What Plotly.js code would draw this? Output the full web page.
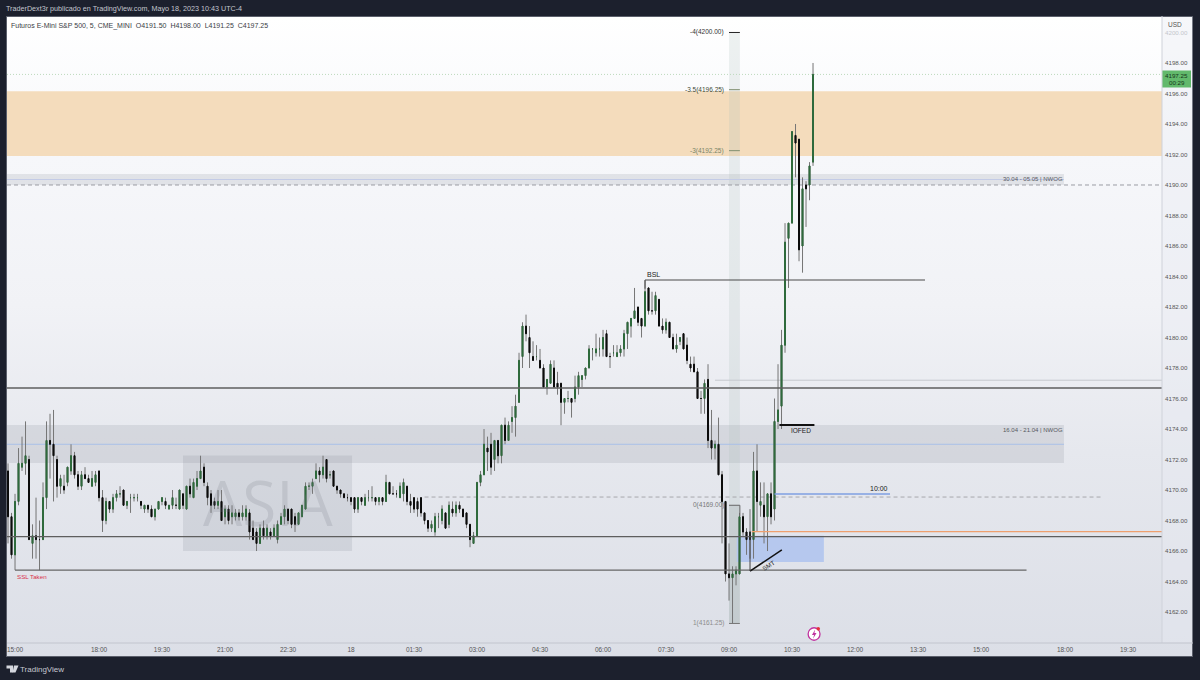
<!DOCTYPE html>
<html><head><meta charset="utf-8">
<script src="https://cdn.plot.ly/plotly-3.0.1.min.js"></script>
<style>
html,body{margin:0;padding:0;width:1200px;height:680px;overflow:hidden;background:#1c202d}
#pane{position:absolute;left:6px;top:16px;width:1187px;height:641px;border:1px solid #5b5f6b;box-sizing:border-box;
background:linear-gradient(#ffffff 0%,#f6f7fa 22%,#f1f2f6 45%,#e6e8ee 68%,#dcdfe7 100%)}
#chart{position:absolute;left:0;top:0;width:1200px;height:680px}
</style></head><body>
<div id="pane"></div><div id="chart"></div>
<script>
const opens=[4171.25,4168.25,4165.75,4169.25,4171.5,4171.75,4172,4166.5,4167,4166.75,
4166.75,4169.5,4173.25,4173,4172,4170.25,4170.25,4170.5,4171.25,4172.25,
4171,4170.25,4171,4170.75,4170.25,4170.5,4171.25,4169.5,4168,4169.25,
4168.75,4169.5,4169.75,4170,4169,4169.5,4169.5,4169.5,4169.25,4168.75,
4169,4168.75,4168.25,4168.75,4169.25,4169.25,4168.75,4169,4169,4168.75,
4169.75,4168.75,4170.25,4169.5,4170.25,4170.75,4171.5,4170.25,4169.75,4169.25,
4169,4169.25,4168.25,4168.75,4168.25,4168.25,4168.5,4168.25,4168.25,4168.5,
4167.5,4167.25,4166.5,4167.5,4167,4167.25,4167,4166.75,4167.75,4168.25,
4168.75,4168.75,4168.25,4167.75,4168.25,4168.75,4170.25,4170.25,4170.75,4171.25,
4171,4172,4171,4171.25,4170.25,4170,4169.75,4169.5,4169.5,4169.5,
4168.75,4169.5,4169,4169.5,4169.5,4169.5,4169.25,4169.5,4169.25,4170.5,
4169.75,4169.75,4169.5,4169.75,4170.25,4169.25,4169.5,4169.25,4169.5,4168.5,
4168,4167.5,4167.25,4168.25,4168,4168.5,4167.75,4168.75,4168.5,4169,
4168.75,4168.5,4167.75,4166.5,4167,4170.5,4171,4172.75,4173,4172,
4173.25,4172.25,4174.25,4173.25,4174.5,4174.75,4175.75,4178.75,4180.75,4180,
4178.75,4178.75,4178.5,4178,4176.75,4177,4178,4177,4177,4175.75,
4176,4176,4176,4176.75,4177.25,4177.5,4178,4179.25,4179,4179.25,
4179.25,4180.25,4178.75,4179,4178.75,4179,4179.25,4180.25,4180.75,4181.25,
4182,4181.25,4180.75,4183.25,4181.75,4181.75,4182.5,4180.75,4180.5,4181,
4180,4179.25,4179.75,4180.25,4179.5,4178.25,4178.25,4177.75,4176,4176,
4177.25,4173.25,4172.75,4173,4171,4169.25,4164.5,4164.25,4164.5,4164.5,
4168.25,4167.25,4167.25,4166.75,4171.25,4169,4169,4168.25,4169.75,4168.75,
4174.5,4175.5,4179.5,4186.5,4187.5,4193.25,4193,4186,4190,4190,
4191.5];
const highs=[4171.75,4168.5,4169.75,4172.75,4173.5,4174.5,4172.25,4167.75,4169.5,4168,
4170.5,4174.5,4175,4175.25,4172.25,4171,4171,4171.5,4173,4172.5,
4171.25,4171.25,4171.5,4171,4171.25,4171.25,4171.25,4170,4169.5,4169.25,
4169.75,4170,4170.25,4170,4169.25,4169.75,4169.75,4169.75,4169.25,4169,
4169,4169,4168.75,4169.25,4169.5,4169.5,4169,4170,4169.5,4170,
4169.75,4170.25,4170.75,4170.75,4171.25,4172.25,4171.75,4170.5,4170,4169.5,
4170,4170,4169,4169,4169,4168.75,4168.75,4169,4169,4168.75,
4168,4167.5,4167.75,4168,4167.75,4167.5,4167.75,4168,4168.5,4169,
4168.75,4168.75,4168.5,4168.5,4169,4170.5,4170.5,4170.75,4171.75,4171.5,
4172.25,4172,4171.25,4171.25,4170.25,4170,4169.75,4169.75,4169.5,4169.5,
4169.5,4169.5,4169.75,4170,4170.25,4169.5,4169.5,4169.5,4171,4170.5,
4170.25,4170,4170.5,4170.75,4170.25,4169.75,4169.5,4169.5,4169.5,4168.5,
4168,4168,4168.5,4168.5,4169,4168.5,4169.25,4169.25,4169.25,4169.25,
4168.75,4168.5,4167.75,4167.25,4170.5,4171.25,4174,4173.5,4173.75,4173.25,
4173.25,4174.25,4174.75,4174.5,4175.5,4176.25,4179,4181,4181.5,4180.75,
4179.75,4179.5,4179.25,4178.25,4177.25,4178.5,4178.5,4177.75,4177,4176,
4176.5,4176,4177.5,4177.75,4177.5,4178,4179.5,4179.25,4180.25,4180,
4180.5,4180.5,4179,4179.5,4179.5,4179.5,4180.5,4181,4181.25,4183.25,
4182,4181.25,4183.75,4183.25,4183,4183,4182.5,4181.25,4181.25,4181,
4180.25,4180.25,4180,4180.25,4180,4178.75,4178.75,4178,4176.5,4177.25,
4178.25,4175.25,4173.25,4174.75,4171.25,4169.25,4166.5,4165,4165,4168.5,
4168.5,4167.5,4168.75,4172.5,4173,4170.5,4170.5,4169.75,4170.5,4176,
4178.25,4180.5,4187.5,4187.5,4193.5,4194,4193,4190.5,4190.25,4191.5,
4198];
const lows=[4166.5,4165.5,4164.75,4169,4171.25,4171,4166.75,4165.5,4165.5,4164.75,
4166.75,4168.75,4170.75,4169.25,4169.5,4169.75,4169.75,4170.25,4171,4170.75,
4170,4170,4170.75,4170.5,4170.25,4170.25,4169.25,4167.25,4167.75,4168.5,
4168.5,4169.25,4169.5,4169,4168.75,4168.5,4169.25,4169.25,4168.75,4168.5,
4168.5,4168.25,4168,4168.75,4169,4168.75,4168.75,4168.75,4168.75,4168.75,
4168.75,4168.75,4169.5,4169.5,4170,4170.75,4170.25,4169,4168.5,4168.75,
4168.75,4168,4167.75,4167.75,4167.75,4168,4168,4168,4168,4166.75,
4166.75,4166,4166.5,4166.75,4166.75,4166.75,4167,4166.5,4167.75,4167.75,
4167.75,4167.5,4167.25,4167.75,4168.25,4168.75,4170,4169.75,4170.75,4170.5,
4170.75,4170.5,4170.75,4170.25,4169.75,4169.5,4169.5,4169.25,4169,4168.5,
4168.5,4169,4169,4169.25,4169.25,4169,4169,4169,4169.25,4169.75,
4169.75,4169.5,4169.5,4169.25,4169,4168.5,4168.5,4168.25,4168.25,4167.75,
4167.25,4167.25,4167,4167.5,4167.75,4167.5,4167.5,4168.25,4168.25,4168.5,
4168.25,4167.5,4166.25,4166.5,4167,4170.25,4171,4171.25,4171,4171.25,
4171.75,4171.75,4173,4173.25,4173.75,4173.5,4175.75,4178,4179.75,4178,
4178.5,4178.5,4178,4176.75,4176.25,4177,4176.75,4176.25,4174.25,4175,
4175.75,4174.75,4175.75,4176.25,4176.75,4177.25,4178,4178.5,4178.75,4178.75,
4178.75,4178.75,4178,4178.75,4178.75,4178.75,4178.75,4179.25,4180,4181.25,
4180.75,4180,4180.75,4181.5,4181.5,4181.5,4180.75,4180.25,4180.25,4180,
4179.25,4179,4179.5,4179.25,4178.25,4177.75,4177.75,4176,4175,4175,
4172.75,4172,4172,4171,4166.5,4164,4162.75,4161.25,4163.75,4164.5,
4167,4165.75,4165.5,4165.5,4167.25,4168.25,4166.5,4166,4167.75,4168,
4174,4174,4179,4183.25,4187.5,4190.5,4185,4184.25,4187.25,4189,
4191.25];
const closes=[4168.25,4165.75,4169.25,4171.75,4171.75,4172.25,4166.75,4167,4166.75,4166.75,
4169.5,4173.25,4173,4172.25,4170.25,4170.75,4170,4171.5,4172.25,4171,
4170.25,4171,4170.75,4170.5,4170.75,4171,4169.5,4168,4169.25,4168.75,
4169.5,4169.75,4169.75,4169,4169.25,4169.5,4169.5,4169.5,4169,4169,
4168.75,4168.25,4168.75,4169.25,4169.5,4169,4169,4169.5,4169,4170,
4169,4170.25,4169.75,4170.5,4170.75,4171.25,4170.5,4169.5,4169,4169,
4169.25,4168,4168.75,4168,4168.5,4168.5,4168.25,4168.5,4168.75,4167.25,
4166.75,4166.5,4167.5,4167,4167.5,4167,4167.5,4167.75,4168.25,4168.75,
4168,4167.75,4167.75,4168.5,4169,4170.25,4170.25,4170.5,4171.25,4171,
4171.5,4170.75,4171,4170.25,4170,4169.75,4169.5,4169.5,4169.25,4168.75,
4169.5,4169.25,4169.5,4169.5,4169.5,4169.25,4169.5,4169.25,4170.5,4169.75,
4169.75,4169.75,4170.25,4170.5,4169.25,4169,4168.75,4168.75,4168.5,4168,
4167.5,4167.75,4168.25,4168.25,4168.75,4167.5,4169,4168.5,4169,4168.75,
4168.25,4167.75,4166.75,4167,4170.5,4171,4173,4172.5,4171.5,4173.25,
4172.25,4174.25,4173.25,4174.25,4174.75,4175.5,4178.5,4180.75,4180.25,4179,
4178.5,4178.75,4178,4176.75,4177.25,4178.25,4176.75,4176.75,4175.75,4176,
4176,4175.75,4176.75,4177.5,4177.5,4178,4179.25,4179.25,4179.25,4179.25,
4180,4178.75,4178.75,4179,4179,4179.25,4180.25,4181,4181.25,4181.75,
4181,4180.75,4183,4181.75,4181.75,4182.75,4180.75,4180.5,4181,4180,
4179.25,4179.5,4180,4179.25,4178.5,4178,4177.75,4176,4176,4177,
4173.25,4172.75,4173,4171,4169.25,4164.5,4164.25,4164.5,4164.75,4168.25,
4167.25,4166.75,4166.75,4171.25,4169.25,4169.25,4168.25,4169.75,4168.25,4174.5,
4175.25,4179.5,4186.25,4187.5,4193.5,4192.75,4185.75,4189.75,4189.75,4191.25,
4197.25];
const firstBar=-2;
const tickBars=[0,24,42,60,78,96,114,132,150,168,186,204,222,240,258,276,300,318];
const tickTimes=["15:00","18:00","19:30","21:00","22:30","18","01:30","03:00","04:30","06:00","07:30","09:00","10:30","12:00","13:30","15:00","18:00","19:30"];
const priceTicks=[4162,4164,4166,4168,4170,4172,4174,4176,4178,4180,4182,4184,4186,4188,4190,4192,4194,4196,4198];

const X0=-2.29,X1=327.71;
const bars=opens.map((_,i)=>i+firstBar);
const bodyHi=opens.map((o,i)=>Math.max(o,closes[i]));
const bodyLo=opens.map((o,i)=>Math.min(o,closes[i]));
const FONT='"Liberation Sans",Arial,sans-serif';
const GREEN='#2f6a3c',BLACK='#0c0c0c',WICK='#757575';

const traces=[
 {type:'candlestick',x:bars,open:opens,high:highs,low:lows,close:closes,hoverinfo:'skip',showlegend:false,
  increasing:{line:{color:WICK,width:1},fillcolor:WICK},decreasing:{line:{color:WICK,width:1},fillcolor:WICK}},
 {type:'candlestick',x:bars,open:opens,high:bodyHi,low:bodyLo,close:closes,hoverinfo:'skip',showlegend:false,
  increasing:{line:{color:GREEN,width:1},fillcolor:GREEN},decreasing:{line:{color:BLACK,width:1},fillcolor:BLACK}}
];

const rect=(x0,x1,y0,y1,fill,layer)=>({type:'rect',xref:'x',yref:'y',x0,x1,y0,y1,fillcolor:fill,line:{width:0},layer:layer||'below'});
const hline=(x0,x1,y,color,width,dash,layer)=>({type:'line',xref:'x',yref:'y',x0,x1,y0:y,y1:y,line:{color,width,dash:dash||'solid'},layer:layer||'below'});
const seg=(x0,y0,x1,y1,color,width)=>({type:'line',xref:'x',yref:'y',x0,x1,y0,y1,line:{color,width},layer:'above'});
const px=x=>(x-7)/1155, py=y=>(643-y)/627;
const pageRect=(xa,xb,ya,yb,fill)=>({type:'rect',xref:'paper',yref:'paper',x0:px(xa),x1:px(xb),y0:py(ya),y1:py(yb),fillcolor:fill,line:{width:0},layer:'below'});

const shapes=[
 pageRect(1162,1192.5,17,642.5,'rgba(232,234,242,0.38)'),
 rect(X0,X1,4191.9,4196.15,'#f4dcbc'),
 rect(X0,299.7,4190.0,4190.72,'rgba(120,123,134,0.16)'),
 rect(X0,299.7,4171.77,4174.26,'rgba(120,123,134,0.16)'),
 rect(48,96.3,4166.0,4172.26,'rgba(120,123,134,0.16)'),
 rect(204,207.1,4169,4200,'rgba(170,190,185,0.2)'),
 rect(204,207.1,4161.25,4169,'rgba(130,150,145,0.28)'),
 rect(206.2,231.1,4165.28,4167.0,'#b6c8ee'),
 hline(X0,299.7,4190.36,'#c3cbe6',1),
 hline(X0,299.7,4173.0,'#a9c0e8',1),
 hline(X0,X1,4190.0,'#9a9ca3',1,'4px,3px'),
 hline(X0,X1,4197.25,'#bcd9bc',1,'1px,2px'),
 hline(200,X1,4177.2,'#c6c8ce',1),
 hline(117,310.6,4169.54,'#a8a8ac',1,'4px,3px'),
 hline(X0,X1,4176.69,'#5e5e5e',1.3,'solid','above'),
 hline(X0,X1,4166.95,'#5e5e5e',1.3,'solid','above'),
 hline(0,289,4164.75,'#666666',1.3,'solid','above'),
 hline(180,260,4183.77,'#4a4a4a',1.2,'solid','above'),
 seg(180,4183.77,180,4183.2,'#4a4a4a',1),
 hline(218.4,228.4,4174.26,'#111111',2,'solid','above'),
 hline(217,250,4169.74,'#7f9fe2',1.5,'solid','above'),
 hline(210.5,X1,4167.27,'#ee9f6e',1.3,'solid','above'),
 seg(210,4164.69,219.1,4166.07,'#111111',1.5),
 seg(210,4167.25,210,4164.69,'#444444',1),
 hline(204,207.1,4200,'#222222',1,'solid','above'),
 hline(204,207.1,4196.25,'#7f8f70',1,'solid','above'),
 hline(204,207.1,4192.25,'#7f8f70',1,'solid','above'),
 hline(204,207.1,4169,'#666666',1,'solid','above'),
 hline(204,207.1,4161.25,'#777777',1,'solid','above'),
 seg(207.1,4169,207.1,4168.3,'#666666',1),
 {type:'circle',xref:'x',yref:'y',x0:226.6,x1:230,y0:4160.15,y1:4160.97,fillcolor:'#ffffff',line:{color:'#c0329f',width:1.3},layer:'above'},
 {type:'path',xref:'x',yref:'y',path:'M 228.6 4160.85 L 227.7 4160.5 L 228.3 4160.5 L 228 4160.25 L 229 4160.62 L 228.4 4160.62 Z',fillcolor:'#c0329f',line:{width:0},layer:'above'},
 {type:'circle',xref:'x',yref:'y',x0:229,x1:230,y0:4160.78,y1:4161.02,fillcolor:'#e5303a',line:{width:0},layer:'above'},
 pageRect(1162,1191,70.5,87.5,'#62b96c'),
 {type:'line',xref:'paper',yref:'paper',x0:1,x1:1,y0:py(643),y1:1,line:{color:'#cfd2da',width:1},layer:'above'},
 {type:'line',xref:'paper',yref:'paper',x0:0,x1:px(1193),y0:0,y1:0,line:{color:'#c2c5ce',width:1},layer:'above'},
 {type:'path',xref:'paper',yref:'paper',path:`M ${px(6.5)} ${py(665.5)} L ${px(13)} ${py(665.5)} L ${px(13)} ${py(672.5)} L ${px(10)} ${py(672.5)} L ${px(10)} ${py(668.5)} L ${px(6.5)} ${py(668.5)} Z`,fillcolor:'#d5d7de',line:{width:0},layer:'above'},
 {type:'path',xref:'paper',yref:'paper',path:`M ${px(14)} ${py(665.5)} L ${px(18.5)} ${py(665.5)} L ${px(15.5)} ${py(672.5)} L ${px(12.5)} ${py(672.5)} Z`,fillcolor:'#d5d7de',line:{width:0},layer:'above'}
];

const note=(x,y,text,size,color,anchor,extra)=>Object.assign({xref:'x',yref:'y',x,y,text,showarrow:false,xanchor:anchor||'center',yanchor:'middle',font:{family:FONT,size,color},borderpad:0,borderwidth:0},extra||{});
const pageNote=(x,y,text,size,color,anchor,extra)=>Object.assign({xref:'paper',yref:'paper',x:px(x),y:py(y),text,showarrow:false,xanchor:anchor||'left',yanchor:'middle',font:{family:FONT,size,color},borderpad:0,borderwidth:0},extra||{});

const annotations=[
 pageNote(6,9,'TraderDext3r publicado en TradingView.com, Mayo 18, 2023 10:43 UTC-4',7.2,'#c3c6cf'),
 pageNote(11,26,'Futuros E-Mini S&amp;P 500, 5, CME_MINI&nbsp;&nbsp;O4191.50&nbsp;&nbsp;H4198.00&nbsp;&nbsp;L4191.25&nbsp;&nbsp;C4197.25',7,'#3a3d45'),
 pageNote(20,669,'TradingView',8,'#c5c8d0'),
 pageNote(1168,24,'USD',6.5,'#555'),
 pageNote(1176.5,75.5,'4197.25',6.2,'#15351a','center'),
 pageNote(1176.5,82.5,'00:29',6.2,'#15351a','center'),
 note(72.3,4169.2,'ASIA',62,'rgba(120,123,134,0.2)','center',{font:{family:'"Open Sans",sans-serif',size:62,color:'rgba(120,123,134,0.2)'}}),
 note(299.4,4190.4,'30.04 - 05.05 | NWOG',6,'#555860','right'),
 note(299.4,4173.93,'16.04 - 21.04 | NWOG',6,'#555860','right'),
 note(202.6,4200,'-4(4200.00)',6.5,'#333','right'),
 note(202.6,4196.25,'-3.5(4196.25)',6.5,'#3f4a35','right'),
 note(202.6,4192.25,'-3(4192.25)',6.5,'#7a8568','right'),
 note(202.6,4169,'0(4169.00)',6.5,'#777','right'),
 note(202.6,4161.25,'1(4161.25)',6.5,'#8c8c8c','right'),
 note(180.6,4184.1,'BSL',7,'#222','left'),
 note(224.6,4173.93,'IOFED',6.5,'#222'),
 note(0.6,4164.36,'SSL Taken',6.2,'#d9304a','left'),
 note(246.9,4170.13,'10:00',7,'#222'),
 note(215.2,4165.05,'SMT',6.2,'#222','center',{textangle:-33})
];

const layout={
 width:1200,height:680,autosize:false,
 margin:{l:7,r:38,t:16,b:37,pad:0},
 paper_bgcolor:'rgba(0,0,0,0)',plot_bgcolor:'rgba(0,0,0,0)',
 showlegend:false,boxmode:'overlay',boxgap:0.6,
 font:{family:FONT,size:7,color:'#555'},
 xaxis:{type:'linear',range:[X0,X1],rangeslider:{visible:false},showgrid:false,zeroline:false,showline:false,
  tickmode:'array',tickvals:tickBars,ticktext:tickTimes,ticks:'',tickfont:{family:FONT,size:6.5,color:'#555'},tickangle:0,ticklabelstandoff:1},
 yaxis:{type:'linear',side:'right',range:[4159.97,4201.08],showgrid:false,zeroline:false,showline:false,
  tickmode:'array',tickvals:priceTicks.concat([4200]),
  ticktext:priceTicks.map(v=>v.toFixed(2)).concat(['<span style="color:#c4c6cc">4200.00</span>']),
  ticks:'',tickfont:{family:FONT,size:6.2,color:'#555'},ticklabelstandoff:2},
 shapes,annotations
};
Plotly.newPlot('chart',traces,layout,{staticPlot:true,displayModeBar:false,responsive:false});
</script></body></html>
